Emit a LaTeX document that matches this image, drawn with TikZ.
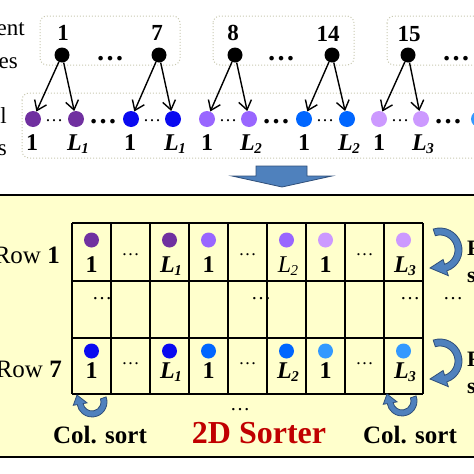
\documentclass[tikz,border=0pt]{standalone}
\usepackage{fontspec}
\setmainfont{Liberation Serif}
\usetikzlibrary{arrows.meta}
\definecolor{pA}{HTML}{7030A0}
\definecolor{pB}{HTML}{9966FF}
\definecolor{pC}{HTML}{CC99FF}
\definecolor{bA}{HTML}{0A0AF0}
\definecolor{bB}{HTML}{0066FF}
\definecolor{bC}{HTML}{3399FF}
\definecolor{panel}{HTML}{FFFFCC}
\definecolor{abl}{HTML}{4F81BD}
\definecolor{abd}{HTML}{2F4F7A}
\definecolor{sred}{HTML}{C00000}
\definecolor{boxc}{HTML}{C8C8B0}
\newcommand{\Lb}[1]{\textbf{\textit{L}}\kern-0.5pt\raisebox{-0.3ex}{\fontsize{15}{15}\selectfont\textit{#1}}}
\newcommand{\Lr}[1]{\textit{L}\kern-0.5pt\raisebox{-0.3ex}{\fontsize{15}{15}\selectfont\textit{#1}}}
\begin{document}
\begin{tikzpicture}[x=1pt,y=-1pt,
  blk/.style={circle,fill=black,minimum size=15pt,inner sep=0},
  cdot/.style={circle,minimum size=16pt,inner sep=0},
  gdot/.style={circle,minimum size=15pt,inner sep=0},
  toplab/.style={anchor=base,inner sep=0,font=\fontsize{23}{23}\selectfont\bfseries},
  lab/.style={anchor=base,inner sep=0,font=\fontsize{24}{24}\selectfont\bfseries},
  side/.style={anchor=base east,inner sep=0,font=\fontsize{23}{23}\selectfont},
  bigdots/.style={anchor=base,inner sep=0,font=\fontsize{28}{28}\selectfont\bfseries},
  smalldots/.style={anchor=base,inner sep=0,font=\fontsize{18}{18}\selectfont},
  groupbox/.style={draw=boxc,line width=1pt,dotted,rounded corners=7pt},
  conn/.style={-{Straight Barb[length=9pt,width=13pt]},line width=1.4pt},
  gridline/.style={line width=1.5pt,black},
  sortlab/.style={anchor=base,inner sep=0,font=\fontsize{25}{25}\selectfont\bfseries},
  rowarrow/.pic={
    \filldraw[fill=abl,draw=abd,line width=0.8pt]
      (-108:22) arc[start angle=-108,end angle=72,radius=22]
      -- (72:27) -- (-10,18) -- (72:10) -- (72:15)
      arc[start angle=72,end angle=-108,radius=15] -- cycle;
  },
  colarrow/.pic={
    \filldraw[fill=abl,draw=abd,line width=0.8pt]
      (-20:15) arc[start angle=-20,end angle=170,radius=15]
      -- (170:19) -- (-15,-7) -- (170:5) -- (170:9)
      arc[start angle=170,end angle=-20,radius=9] -- cycle;
  }]
\useasboundingbox (0,0) rectangle (474,474);

% ---------- top part ----------
\draw[groupbox] (40,16) rectangle (180,65);
\draw[groupbox] (213,16) rectangle (354,65);
\draw[groupbox] (387,16) rectangle (490,65);
\draw[groupbox] (22,93) rectangle (490,158);

\node[side] (t1) at (25,35) {ent};
\node[side] (t2) at (18,68) {es};
\node[side] (t3) at (7,123) {l};
\node[side] (t4) at (7,155) {s};

\node[blk] (n1) at (62,55) {};
\node[blk] (n7) at (159,55) {};
\node[blk] (n8) at (235,55) {};
\node[blk] (n14) at (332,55) {};
\node[blk] (n15) at (408,55) {};
\node[toplab] (ln1) at (63,40) {1};
\node[toplab] (ln7) at (157,40) {7};
\node[toplab] (ln8) at (233,40) {8};
\node[toplab] (ln14) at (328,41) {14};
\node[toplab] (ln15) at (409,41) {15};
\node[bigdots] (bd1) at (110,60) {…};
\node[bigdots] (bd2) at (281,60) {…};
\node[bigdots] (bd3) at (456,60) {…};

\node[cdot,fill=pA] (a) at (33,119) {};
\node[cdot,fill=pA] (b) at (76,119) {};
\node[cdot,fill=bA] (c) at (131,119) {};
\node[cdot,fill=bA] (d) at (173,119) {};
\node[cdot,fill=pB] (e) at (207,119) {};
\node[cdot,fill=pB] (f) at (249,119) {};
\node[cdot,fill=bB] (g) at (304,119) {};
\node[cdot,fill=bB] (h) at (347,119) {};
\node[cdot,fill=pC] (i) at (379,119) {};
\node[cdot,fill=pC] (j) at (421,119) {};
\node[cdot,fill=bC] (k) at (479,119) {};

\node[smalldots] (sd1) at (54,121) {…};
\node[smalldots] (sd2) at (152,121) {…};
\node[smalldots] (sd3) at (228,121) {…};
\node[smalldots] (sd4) at (325,121) {…};
\node[smalldots] (sd5) at (400,121) {…};
\node[bigdots] (bd4) at (103,123) {…};
\node[bigdots] (bd5) at (276,123) {…};
\node[bigdots] (bd6) at (448,123) {…};

\node[lab] (la) at (32,150) {1};
\node[lab] (lb) at (78,150) {\Lb{1}};
\node[lab] (lc) at (130,150) {1};
\node[lab] (ld) at (175,150) {\Lb{1}};
\node[lab] (le) at (207,150) {1};
\node[lab] (lf) at (251,150) {\Lb{2}};
\node[lab] (lg) at (304,150) {1};
\node[lab] (lh) at (349,150) {\Lb{2}};
\node[lab] (li) at (379,150) {1};
\node[lab] (lj) at (423,150) {\Lb{3}};

\draw[conn] (n1) -- (a);
\draw[conn] (n1) -- (b);
\draw[conn] (n7) -- (c);
\draw[conn] (n7) -- (d);
\draw[conn] (n8) -- (e);
\draw[conn] (n8) -- (f);
\draw[conn] (n14) -- (g);
\draw[conn] (n14) -- (h);
\draw[conn] (n15) -- (i);
\draw[conn] (n15) -- (j);

% block arrow
\filldraw[fill=abl,draw=abd,line width=0.8pt]
  (256,166) -- (307,166) -- (307,176) -- (332,176) -- (282,187)
  -- (232,176) -- (256,176) -- cycle;

% ---------- bottom panel ----------
\fill[panel] (-5,195) rectangle (480,457);
\draw[line width=1.5pt] (-5,195) -- (480,195);
\draw[line width=1.5pt] (-5,457) -- (480,457);

\foreach \xx in {72,111,150,189,228,267,306,345,384,423}
  \draw[gridline] (\xx,223) -- (\xx,394);
\foreach \yy in {223,281,338,394}
  \draw[gridline] (72,\yy) -- (423,\yy);

\node[side,font=\fontsize{25}{25}\selectfont] (r1) at (60,263) {Row \textbf{1}};
\node[side,font=\fontsize{25}{25}\selectfont] (r7) at (62,377) {Row \textbf{7}};

% row 1
\node[gdot,fill=pA] (g11) at (91.5,240) {};
\node[gdot,fill=pA] (g13) at (169.5,240) {};
\node[gdot,fill=pB] (g14) at (208.5,240) {};
\node[gdot,fill=pB] (g16) at (286.5,240) {};
\node[gdot,fill=pC] (g17) at (325.5,240) {};
\node[gdot,fill=pC] (g19) at (403.5,240) {};
\node[lab] (h11) at (91.5,272) {1};
\node[smalldots] (h12) at (130.5,255) {…};
\node[lab] (h13) at (171,272) {\Lb{1}};
\node[lab] (h14) at (208.5,272) {1};
\node[smalldots] (h15) at (247.5,255) {…};
\node[lab,font=\fontsize{24}{24}\selectfont] (h16) at (288,272) {\Lr{2}};
\node[lab] (h17) at (325.5,272) {1};
\node[smalldots] (h18) at (364.5,255) {…};
\node[lab] (h19) at (405,272) {\Lb{3}};

% middle row
\node[smalldots,font=\fontsize{20}{20}\selectfont] (m1) at (102,299) {…};
\node[smalldots,font=\fontsize{20}{20}\selectfont] (m2) at (261,299) {…};
\node[smalldots,font=\fontsize{20}{20}\selectfont] (m3) at (410,299) {…};
\node[smalldots,font=\fontsize{20}{20}\selectfont] (m4) at (453,299) {…};

% row 7
\node[gdot,fill=bA] (g71) at (91.5,351) {};
\node[gdot,fill=bA] (g73) at (169.5,351) {};
\node[gdot,fill=bB] (g74) at (208.5,351) {};
\node[gdot,fill=bB] (g76) at (286.5,351) {};
\node[gdot,fill=bC] (g77) at (325.5,351) {};
\node[gdot,fill=bC] (g79) at (403.5,351) {};
\node[lab] (k71) at (91.5,378) {1};
\node[smalldots] (k72) at (130.5,364) {…};
\node[lab] (k73) at (171,378) {\Lb{1}};
\node[lab] (k74) at (208.5,378) {1};
\node[smalldots] (k75) at (247.5,364) {…};
\node[lab] (k76) at (288,378) {\Lb{2}};
\node[lab] (k77) at (325.5,378) {1};
\node[smalldots] (k78) at (364.5,364) {…};
\node[lab] (k79) at (405,378) {\Lb{3}};

\node[smalldots,font=\fontsize{20}{20}\selectfont] (bb) at (240,410) {…};

% sort arrows
\pic at (440,250) {rowarrow};
\pic at (440,361) {rowarrow};
\pic at (92,402) {colarrow};
\pic at (402,401) {colarrow};

\node[anchor=base west,inner sep=0,font=\fontsize{22}{22}\selectfont\bfseries] (rs1) at (467,255) {Row};
\node[anchor=base west,inner sep=0,font=\fontsize{22}{22}\selectfont\bfseries] (rs2) at (467,282) {sort};
\node[anchor=base west,inner sep=0,font=\fontsize{22}{22}\selectfont\bfseries] (rs3) at (467,366) {Row};
\node[anchor=base west,inner sep=0,font=\fontsize{22}{22}\selectfont\bfseries] (rs4) at (467,393) {sort};

\node[sortlab] (cs1) at (100,443) {Col. sort};
\node[sortlab] (cs2) at (410,443) {Col. sort};
\node[anchor=base,inner sep=0,text=sred,font=\fontsize{32}{32}\selectfont\bfseries] (ttl) at (259,443) {2D Sorter};
\end{tikzpicture}
\end{document}
